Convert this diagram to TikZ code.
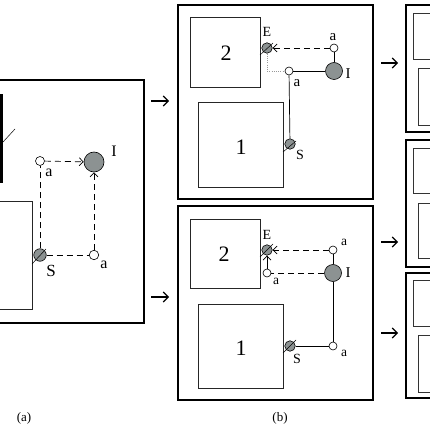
\documentclass[tikz,border=0pt]{standalone}
\usepackage{fontspec}
\setmainfont{Liberation Serif}
\usetikzlibrary{arrows.meta}
\definecolor{dotfill}{RGB}{140,146,146}
\begin{document}
\begin{tikzpicture}[x=1pt,y=-1pt,
 frame/.style={draw=black,line width=1.6pt},
 box/.style={draw=black!85,line width=0.7pt},
 ibox/.style={draw=black!80,line width=0.8pt},
 acirc/.style={circle,draw=black,fill=white,line width=0.6pt,inner sep=0pt,minimum size=8pt},
 scirc/.style={circle,draw=black,fill=dotfill,line width=0.6pt,inner sep=0pt,minimum size=10.5pt},
 icirc/.style={circle,draw=black,fill=dotfill,line width=0.6pt,inner sep=0pt,minimum size=17pt},
 conn/.style={line width=0.7pt},
 dconn/.style={conn,dash pattern=on 6pt off 4pt},
 dotconn/.style={draw=black!40,line width=0.8pt,dash pattern=on 1pt off 1.2pt},
 tip/.style={-{Straight Barb[length=4pt,width=8pt]}},
 parr/.style={line width=1.1pt,-{Straight Barb[length=5pt,width=10pt]}},
 slash/.style={line width=0.5pt},
 lab/.style={inner sep=0pt,font=\fontsize{15}{15}\selectfont},
 slab/.style={inner sep=0pt,font=\fontsize{13.5}{13.5}\selectfont},
 elab/.style={inner sep=0pt,font=\fontsize{14}{14}\selectfont},
 ilab/.style={inner sep=0pt,font=\fontsize{15}{15}\selectfont},
 num/.style={inner sep=0pt,font=\fontsize{22}{22}\selectfont},
 captext/.style={inner sep=0pt,font=\fontsize{13}{13}\selectfont}
]
\useasboundingbox (0,0) rectangle (430,430);
\fill[white] (0,0) rectangle (430,430);
\clip (0,0) rectangle (430,430);

% ---------- panel (a)
\draw[frame] (-10,80) rectangle (144,323);
\fill[black] (-5,94) rectangle (3,183);
\draw[slash] (3,142) -- (15,129);
\draw[box] (-10,201) rectangle (32,309);
\node[acirc,minimum size=9pt] (Aa1) at (40,161) {};
\node[icirc,minimum size=20pt] (AI) at (94,162) {};
\node[scirc,minimum size=12.5pt] (AS) at (40,255) {};
\node[acirc,minimum size=9.5pt] (Aa2) at (94,255) {};
\draw[dconn] (AS) -- (Aa1);
\draw[dconn,tip] (Aa1) -- (AI);
\draw[dconn] (AS) -- (Aa2);
\draw[dconn,tip] (Aa2) -- (AI);
\draw[slash] (32,264) -- (46,249);
\node[inner sep=0pt,font=\fontsize{16}{16}\selectfont] (Aa1l) at (49,173) {a};
\node[inner sep=0pt,font=\fontsize{16}{16}\selectfont] (AIl) at (114,151) {I};
\node[inner sep=0pt,font=\fontsize{17}{17}\selectfont] (ASl) at (51,271) {S};
\node[inner sep=0pt,font=\fontsize{16}{16}\selectfont] (Aa2l) at (104,265) {a};

% ---------- panel (b) top
\draw[frame] (178,5) rectangle (373,199);
\draw[box] (190,17) rectangle (260,87);
\node[num] (B2) at (226,53) {2};
\draw[box] (198,102) rectangle (283,187);
\node[num] (B1) at (241,147) {1};
\node[scirc] (BE) at (267,48) {};
\node[acirc] (Bta) at (334,48) {};
\node[icirc] (BI) at (334,71) {};
\node[acirc] (Bma) at (289,71) {};
\node[scirc] (BS) at (290,144) {};
\draw[conn] (BS) -- (Bma);
\draw[conn] (Bma) -- (BI);
\draw[conn] (BI) -- (Bta);
\draw[dconn,tip] (Bta) -- (BE);
\draw[dotconn] (BE) |- (Bma);
\draw[slash] (260,55) -- (273,43);
\draw[slash] (283,152) -- (296,141);
\node[elab] (BEl) at (267,32) {E};
\node[lab] (Btal) at (333,37) {a};
\node[ilab] (BIl) at (348,74) {I};
\node[lab] (Bmal) at (297,83) {a};
\node[elab] (BSl) at (300,155) {S};

% ---------- panel (b) bottom
\draw[frame] (178,206) rectangle (373,400);
\draw[box] (190,219) rectangle (260,288);
\node[num] (C2) at (224,254) {2};
\draw[box] (198,304) rectangle (283,388);
\node[num] (C1) at (241,348) {1};
\node[scirc] (CE) at (267,250) {};
\node[acirc] (Cta) at (333,250) {};
\node[icirc] (CI) at (333,273) {};
\node[acirc] (Cla) at (267,273) {};
\node[acirc] (Cba) at (333,346) {};
\node[scirc] (CS) at (290,346) {};
\draw[conn] (CS) -- (Cba);
\draw[conn] (Cba) -- (CI);
\draw[conn] (CI) -- (Cta);
\draw[dconn,tip] (Cta) -- (CE);
\draw[dconn] (CI) -- (Cla);
\draw[conn,tip] (Cla) -- (CE);
\draw[slash] (260,257) -- (273,244);
\draw[slash] (283,353) -- (296,340);
\node[elab] (CEl) at (267,235) {E};
\node[slab] (Ctal) at (344,242) {a};
\node[ilab] (CIl) at (348,273) {I};
\node[slab] (Clal) at (276,281) {a};
\node[slab] (Cbal) at (344,353) {a};
\node[elab] (CSl) at (297,359) {S};

% ---------- right column
\draw[frame] (406,5) rectangle (445,132);
\draw[ibox] (413,13) rectangle (445,59);
\draw[ibox] (418,68) rectangle (445,125);
\draw[frame] (406,140) rectangle (445,267);
\draw[ibox] (413,148) rectangle (445,193);
\draw[ibox] (418,203) rectangle (445,258);
\draw[frame] (406,273) rectangle (445,398);
\draw[ibox] (413,280) rectangle (445,326);
\draw[ibox] (418,335) rectangle (445,392);

% ---------- arrows between panels
\coordinate (p1s) at (151,101); \coordinate (p1e) at (169,101);
\coordinate (p2s) at (151,297); \coordinate (p2e) at (169,297);
\coordinate (p3s) at (381,63);  \coordinate (p3e) at (398,63);
\coordinate (p4s) at (381,242); \coordinate (p4e) at (398,242);
\coordinate (p5s) at (381,333); \coordinate (p5e) at (398,333);
\draw[parr] (p1s) -- (p1e);
\draw[parr] (p2s) -- (p2e);
\draw[parr] (p3s) -- (p3e);
\draw[parr] (p4s) -- (p4e);
\draw[parr] (p5s) -- (p5e);

% ---------- captions
\node[captext] (capa) at (24,418) {(a)};
\node[captext] (capb) at (280,418) {(b)};
\end{tikzpicture}
\end{document}
